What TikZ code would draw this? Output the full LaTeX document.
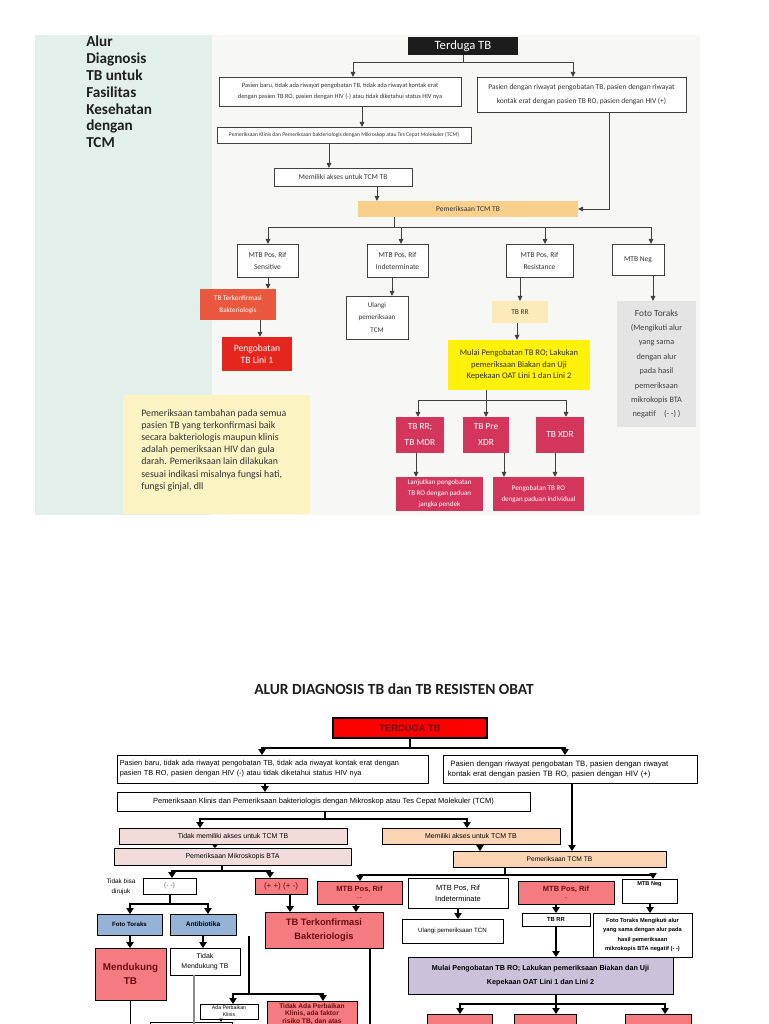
\documentclass[tikz,border=0pt]{standalone}
\usepackage{fontspec}
\setmainfont{Carlito}
\newfontfamily\arf{Liberation Sans}
\usetikzlibrary{arrows.meta,calc}
\definecolor{pagebg}{HTML}{F7F7F5}
\definecolor{mint}{HTML}{E3EFEA}
\definecolor{tblack}{HTML}{1C1C1C}
\definecolor{torange}{HTML}{F9CF8C}
\definecolor{tredA}{HTML}{E9573F}
\definecolor{tredB}{HTML}{E4261E}
\definecolor{tcream}{HTML}{FCEBB8}
\definecolor{tyellow}{HTML}{FFF10A}
\definecolor{tgray}{HTML}{E4E4E4}
\definecolor{tcrim}{HTML}{D4365B}
\definecolor{tnote}{HTML}{FCF3C3}
\definecolor{bpink}{HTML}{F2DCDB}
\definecolor{bpeach}{HTML}{FBD4B4}
\definecolor{bsal}{HTML}{F47B7F}
\definecolor{bblue}{HTML}{95B3D7}
\definecolor{blav}{HTML}{CCC1DA}
\definecolor{maroon}{HTML}{6B0F10}
\newcommand\fz[2]{\fontsize{#1pt}{#2pt}\selectfont}
\newcommand\mybox[7]{%
 \pgfmathsetmacro\myw{(#4-#2)*0.75}%
 \pgfmathsetmacro\myh{(#5-#3)*0.75}%
 \node[minimum width=\myw pt,minimum height=\myh pt,inner sep=0pt,outer sep=0pt,#6] (#1) at ({(#2+#4)/2},{(#3+#5)/2}) {#7};}
\begin{document}
\begin{tikzpicture}[x=0.75pt,y=-0.75pt,
 tb/.style={draw=black!75,line width=0.55pt,fill=white,align=center,text=black!80},
 tl/.style={draw=black!75,line width=0.7pt},
 tarr/.style={tl,-{Triangle[length=3.8pt,width=3.4pt]}},
 bb/.style={draw=black,line width=0.6pt,fill=white,align=center,text=black,font=\arf\fz{5.6}{7.4}},
 thk/.style={draw=black,line width=2.1pt},
 barr/.style={thk,-{Triangle[length=4.5pt,width=5.5pt]}},
 bthin/.style={draw=black,line width=0.8pt},
]
\useasboundingbox (0,0) rectangle (768,1024);
\fill[white] (0,0) rectangle (768,1024);
% ---------------- TOP DIAGRAM ----------------
\fill[pagebg] (35,35) rectangle (700,515);
\fill[mint] (35,35) rectangle (212,515);
\node[anchor=north west,align=left,inner sep=0pt,font=\bfseries\fz{11.4}{12.6},text=black!88] (ttl) at (86,36) {Alur\\Diagnosis\\TB untuk\\Fasilitas\\Kesehatan\\dengan\\TCM};
\mybox{td}{408}{37}{518}{55}{fill=tblack,text=white,font=\fz{9.5}{11}}{Terduga TB}
\mybox{lb}{219}{77}{461}{106}{tb,font=\fz{4.8}{8.4}}{Pasien baru, tidak ada riwayat pengobatan TB, tidak ada riwayat kontak erat\\dengan pasien TB RO, pasien dengan HIV (-) atau tidak diketahui status HIV nya}
\mybox{rb}{477}{77}{686}{112}{tb,font=\fz{5.6}{10.8}}{Pasien dengan riwayat pengobatan TB, pasien dengan riwayat\\kontak erat dengan pasien TB RO, pasien dengan HIV (+)}
\mybox{pk}{217}{127}{471}{143}{tb,font=\fz{4.2}{6}}{Pemeriksaan Klinis dan Pemeriksaan bakteriologis dengan Mikroskop atau Tes Cepat Molekuler (TCM)}
\mybox{ma}{274}{168}{412}{186}{tb,font=\fz{5.6}{7}}{Memiliki akses untuk TCM TB}
\mybox{tcm}{358}{201}{578}{217}{fill=torange,text=black!80,font=\fz{5.6}{7}}{Pemeriksaan TCM TB}
\mybox{m1}{237}{244}{298}{277}{tb,font=\fz{5.6}{9}}{MTB Pos, Rif\\Sensitive}
\mybox{m2}{367}{244}{428}{277}{tb,font=\fz{5.6}{9}}{MTB Pos, Rif\\Indeterminate}
\mybox{m3}{506}{244}{573}{277}{tb,font=\fz{5.6}{9}}{MTB Pos, Rif\\Resistance}
\mybox{m4}{612}{244}{664}{275}{tb,font=\fz{5.6}{9}}{MTB Neg}
\mybox{tk}{200}{289}{276}{320}{fill=tredA,text=white,align=center,font=\fz{5.3}{9}}{TB Terkonfirmasi\\Bakteriologis}
\mybox{pl}{222}{337}{292}{371}{fill=tredB,text=white,align=center,font=\fz{7.2}{9.5}}{Pengobatan\\TB Lini 1}
\mybox{ul}{346}{296}{408}{339}{tb,font=\fz{5.3}{9.3}}{Ulangi\\pemeriksaan\\TCM}
\mybox{rr}{492}{301}{548}{323}{fill=tcream,text=black!80,font=\fz{5.6}{7}}{TB RR}
\mybox{mp}{448}{340}{590}{390}{fill=tyellow,text=black!80,align=center,font=\fz{6.4}{8.6}}{Mulai Pengobatan TB RO; Lakukan\\pemeriksaan Biakan dan Uji\\Kepekaan OAT Lini 1 dan Lini 2}
\mybox{ft}{617}{301}{696}{427}{fill=tgray,text=black!75,align=center,font=\fz{6.2}{10.8}}{{\fz{7}{10.8}Foto Toraks}\\(Mengikuti alur\\yang sama\\dengan alur\\pada hasil\\pemeriksaan\\mikrokopis BTA\\negatif\quad(- -) )}
\mybox{c1}{396}{417}{444}{453}{fill=tcrim,text=white,align=center,font=\fz{7}{12}}{TB RR;\\TB MDR}
\mybox{c2}{463}{417}{509}{453}{fill=tcrim,text=white,align=center,font=\fz{7}{12}}{TB Pre\\XDR}
\mybox{c3}{536}{417}{584}{453}{fill=tcrim,text=white,align=center,font=\fz{7}{12}}{TB XDR}
\mybox{d1}{396}{477}{483}{511}{fill=tcrim,text=white,align=center,font=\fz{5.3}{8.2}}{Lanjutkan pengobatan\\TB RO dengan paduan\\jangka pendek}
\mybox{d2}{493}{477}{584}{511}{fill=tcrim,text=white,align=center,font=\fz{5.3}{8.2}}{Pengobatan TB RO\\dengan paduan individual}
\mybox{note}{123}{395}{310}{514}{fill=tnote}{}
\node[anchor=north west,align=left,inner sep=0pt,font=\fz{7.4}{9.15},text=black!80] (notetext) at (141,409) {Pemeriksaan tambahan pada semua\\pasien TB yang terkonfirmasi baik\\secara bakteriologis maupun klinis\\adalah pemeriksaan HIV dan gula\\darah. Pemeriksaan lain dilakukan\\sesuai indikasi misalnya fungsi hati,\\fungsi ginjal, dll};
% top connectors
\coordinate (tdj) at (463,62);
\draw[tl] (td.south) -- (tdj);
\draw[tarr] (tdj) -| (lb.north -| 353,0);
\draw[tarr] (tdj) -| (rb.north -| 573,0);
\draw[tarr] (lb.south -| 362,0) -- (pk.north -| 362,0);
\draw[tarr] (pk.south -| 329,0) -- (ma.north -| 329,0);
\draw[tarr] (ma.south -| 377,0) -- (tcm.north -| 377,0);
\draw[tarr] (rb.south -| 609,0) |- (tcm.east);
\coordinate (tj) at (394,227);
\draw[tl] (tcm.south -| tj) -- (tj);
\draw[tarr] (tj) -| (m1.north -| 268,0);
\draw[tarr] (tj) -| (m4.north -| 651,0);
\draw[tarr] (tj -| 401,0) -- (m2.north -| 401,0);
\draw[tarr] (tj -| 545,0) -- (m3.north -| 545,0);
\draw[tarr] (m1.south -| 268,0) -- (tk.north -| 268,0);
\draw[tarr] (tk.south -| 260,0) -- (pl.north -| 260,0);
\draw[tarr] (m2.south -| 392,0) -- (ul.north -| 392,0);
\draw[tarr] (m3.south -| 520,0) -- (rr.north -| 520,0);
\draw[tarr] (rr.south -| 517,0) -- (mp.north -| 517,0);
\draw[tarr] (m4.south -| 653,0) -- (ft.north -| 653,0);
\coordinate (mj) at (486,400);
\draw[tl] (mp.south -| mj) -- (mj);
\draw[tarr] (mj) -| (c1.north -| 418,0);
\draw[tarr] (mj) -| (c3.north -| 566,0);
\draw[tarr] (mj) -- (c2.north -| mj);
\draw[tarr] (c1.south -| 416,0) -- (d1.north -| 416,0);
\draw[tarr] (c2.south -| 504,0) -- (d2.north -| 504,0);
\draw[tarr] (c3.south -| 555,0) -- (d2.north -| 555,0);
% ---------------- BOTTOM DIAGRAM ----------------
\node[font=\bfseries\fz{11.6}{13},text=black!88] (btitle) at (394,689) {ALUR DIAGNOSIS TB dan TB RESISTEN OBAT};
\mybox{BT}{333}{718}{487}{738}{draw=black,line width=0.8pt,fill=red,text=maroon,font=\arf\bfseries\fz{7}{8}}{TERDUGA TB}
\mybox{BL}{117}{755}{428}{783}{bb,align=left,text width=229pt,inner xsep=2pt,font=\arf\fz{5.5}{7.5}}{Pasien baru, tidak ada riwayat pengobatan TB, tidak ada riwayat kontak erat dengan\\pasien TB RO, pasien dengan HIV (-) atau tidak diketahui status HIV nya}
\mybox{BR}{444}{755}{697}{783}{bb,align=left,text width=184pt,inner xsep=3pt,font=\arf\fz{5.8}{7.5}}{\ Pasien dengan riwayat pengobatan TB, pasien dengan riwayat\\kontak erat dengan pasien TB RO, pasien dengan HIV (+)}
\mybox{BPK}{117}{792}{530}{811}{bb,font=\arf\fz{5.6}{7}}{Pemeriksaan Klinis dan Pemeriksaan bakteriologis dengan Mikroskop atau Tes Cepat Molekuler (TCM)}
\mybox{BTA}{119}{828}{347}{844}{bb,fill=bpink,font=\arf\fz{5.2}{6}}{Tidak memiliki akses untuk TCM TB}
\mybox{BMA}{382}{828}{560}{844}{bb,fill=bpeach,font=\arf\fz{5.2}{6}}{Memiliki akses untuk TCM TB}
\mybox{BMI}{114}{848}{351}{865}{bb,fill=bpink,font=\arf\fz{5.2}{6}}{Pemeriksaan Mikroskopis BTA}
\mybox{BTC}{453}{851}{666}{867}{bb,fill=bpeach,font=\arf\fz{5}{6}}{Pemeriksaan TCM TB}
\node[align=center,font=\arf\fz{4.8}{7},inner sep=0pt] (BTXT) at (121,887) {Tidak bisa\\dirujuk};
\mybox{BNG}{143}{878}{196}{894}{bb,font=\arf\fz{5}{6},text=black!60}{(- -)}
\mybox{BPS}{255}{878}{307}{894}{bb,fill=bsal,font=\arf\fz{6}{7},text=maroon}{(+ +) (+ -)}
\mybox{BM1}{317}{881}{402}{904}{bb,fill=bsal,text=maroon,font=\arf\bfseries\fz{5.6}{7}}{MTB Pos, Rif\\[-1pt]{\fz{3.5}{4}- -}}
\mybox{BM2}{408}{878}{508}{908}{bb,font=\arf\fz{5.6}{8}}{MTB Pos, Rif\\Indeterminate}
\mybox{BM3}{518}{881}{614}{904}{bb,fill=bsal,text=maroon,font=\arf\bfseries\fz{5.6}{7}}{MTB Pos, Rif\\[-1pt]{\fz{3.5}{4}-}}
\mybox{BM4}{622}{879}{677}{903}{bb,font=\arf\bfseries\fz{4.2}{5}}{MTB Neg\\[6pt]\mbox{}}
\mybox{BFT}{97}{914}{162}{935}{bb,fill=bblue,font=\arf\bfseries\fz{4.6}{6}}{Foto Toraks}
\mybox{BAB}{170}{914}{236}{935}{bb,fill=bblue,font=\arf\bfseries\fz{5}{6}}{Antibiotika}
\mybox{BMD}{95}{948}{166}{1000}{bb,fill=bsal,text=maroon,font=\arf\bfseries\fz{7.4}{10}}{Mendukung\\TB}
\mybox{BTMD}{170}{948}{240}{975}{bb,font=\arf\fz{5.2}{7.5}}{Tidak\\Mendukung TB}
\mybox{BTK}{265}{912}{383}{948}{bb,fill=bsal,text=maroon,font=\arf\bfseries\fz{7}{11}}{TB Terkonfirmasi\\Bakteriologis}
\mybox{BAP}{200}{1004}{258}{1019}{bb,font=\arf\fz{3.9}{5.4}}{Ada Perbaikan\\Klinis}
\mybox{BTAP}{267}{1001}{357}{1046}{bb,fill=bsal}{}
\node[anchor=north,align=center,inner sep=0pt,text=maroon,font=\arf\bfseries\fz{5}{5.6}] (BTAPtext) at ([yshift=-1.5pt]BTAP.north) {Tidak Ada Perbaikan\\Klinis, ada faktor\\risiko TB, dan atas};
\mybox{BPART}{150}{1022}{232}{1045}{bb}{}
\mybox{BUL}{402}{919}{503}{943}{bb,font=\arf\fz{4.6}{6}}{Ulangi pemeriksaan TCN}
\mybox{BRR}{522}{913}{590}{926}{bb,font=\arf\bfseries\fz{4.4}{5}}{TB RR}
\mybox{BFT2}{593}{913}{692}{957}{bb,font=\arf\bfseries\fz{4.3}{7.2}}{Foto Toraks Mengikuti alur\\yang sama dengan alur pada\\hasil pemeriksaan\\mikrokopis BTA negatif (- -)}
\mybox{BMP}{408}{957}{673}{994}{bb,fill=blav,font=\arf\bfseries\fz{5.4}{11}}{Mulai Pengobatan TB RO; Lakukan pemeriksaan Biakan dan Uji\\Kepekaan OAT Lini 1 dan Lini 2}
\mybox{BX1}{427}{1014}{492}{1046}{bb,fill=bsal}{}
\mybox{BX2}{514}{1014}{576}{1046}{bb,fill=bsal}{}
\mybox{BX3}{625}{1014}{691}{1046}{bb,fill=bsal}{}
% bottom connectors
\coordinate (bj1) at (410,748);
\draw[thk] (BT.south) -- (bj1);
\draw[barr] (bj1) -| (BL.north -| 262,0);
\draw[barr] (bj1) -| (BR.north -| 565,0);
\draw[barr] (BL.south -| 265,0) -- (BPK.north -| 265,0);
\draw[barr] (BR.south -| 572,0) -- (BTC.north -| 572,0);
\coordinate (bj2) at (325,819);
\draw[thk] (BPK.south -| bj2) -- (bj2);
\draw[barr] (bj2) -| (BTA.north -| 200,0);
\draw[barr] (bj2) -| (BMA.north -| 467,0);
\draw[thk,-{Triangle[length=2.6pt,width=4.5pt]}] (BTA.south -| 215,0) -- (BMI.north -| 215,0);
\draw[barr] (BMA.south -| 480,0) -- (BTC.north -| 480,0);
\coordinate (bj3) at (222,871);
\draw[thk] (BMI.south -| bj3) -- (bj3);
\draw[barr] (bj3) -| (BNG.north -| 172,0);
\draw[barr] (bj3) -| (BPS.north -| 270,0);
\coordinate (bj4) at (505,875);
\draw[bthin] (BTC.south -| bj4) -- (bj4);
\draw[barr] (bj4) -| (BM1.north -| 360,0);
\draw[barr] (bj4) -| (BM4.north -| 653,0);
\coordinate (bj5) at (170,904);
\draw[thk] (BNG.south -| bj5) -- (bj5);
\draw[barr] (bj5) -| (BFT.north -| 130,0);
\draw[barr] (bj5) -| (BAB.north -| 208,0);
\draw[barr] (BFT.south -| 130,0) -- (BMD.north -| 130,0);
\draw[barr] (BAB.south -| 203,0) -- (BTMD.north -| 203,0);
\draw[barr] (BPS.south -| 290,0) -- (BTK.north -| 290,0);
\draw[barr] (BM1.south -| 356,0) -- (BTK.north -| 356,0);
\coordinate (bv1) at (249,936);
\coordinate (bj6) at (249,994);
\draw[draw=black,line width=1.3pt] (bv1) -- (bj6);
\draw[barr] (bj6) -| (BAP.north -| 233,0);
\draw[barr] (bj6) -| (BTAP.north -| 323,0);
\coordinate (e1) at (130,1030);
\coordinate (e2) at (194,1030);
\coordinate (e3) at (370,1030);
\draw[bthin,line width=0.6pt] (BMD.south -| e1) -- (e1);
\draw[bthin,draw=black!45] (BTMD.south -| e2) -- (e2);
\draw[bthin,-{Triangle[length=2.5pt,width=3pt]}] (BAP.south -| 221,0) -- (BPART.north -| 221,0);
\draw[thk] (BTK.south -| e3) -- (e3);
\draw[barr] (BM2.south -| 458,0) -- (BUL.north -| 458,0);
\draw[barr] (BM3.south -| 556,0) -- (BRR.north -| 556,0);
\draw[barr] (BRR.south -| 556,0) -- (BMP.north -| 556,0);
\draw[barr] (BM4.south -| 650,0) -- (BFT2.north -| 650,0);
\coordinate (bj7) at (556,1004);
\draw[thk] (BMP.south -| bj7) -- (bj7);
\draw[barr] (bj7) -| (BX1.north -| 460,0);
\draw[barr] (bj7) -| (BX3.north -| 665,0);
\draw[barr] (bj7) -- (BX2.north -| bj7);
\end{tikzpicture}
\end{document}
